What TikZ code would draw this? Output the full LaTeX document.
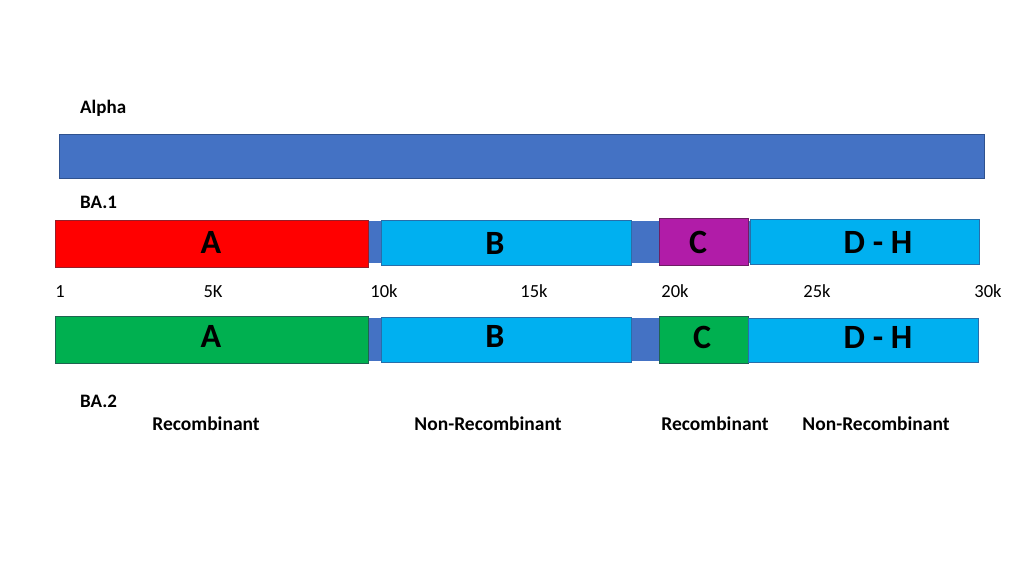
\documentclass[tikz,border=0pt]{standalone}
\usepackage{fontspec}
\setmainfont{Carlito}
\definecolor{alphablue}{RGB}{68,114,196}
\definecolor{alphaedge}{RGB}{47,82,143}
\definecolor{cyanseg}{RGB}{0,176,240}
\definecolor{cyanedge}{RGB}{40,110,170}
\definecolor{redseg}{RGB}{255,0,0}
\definecolor{rededge}{RGB}{150,30,40}
\definecolor{purpleseg}{RGB}{177,28,168}
\definecolor{purpleedge}{RGB}{110,30,100}
\definecolor{greenseg}{RGB}{0,176,80}
\definecolor{greenedge}{RGB}{30,100,80}
\tikzset{
  seg/.style={draw, line width=0.8pt, anchor=north west, inner sep=0pt, outer sep=0pt},
  seglbl/.style={anchor=base, inner sep=0pt, font=\fontsize{34}{36}\selectfont\bfseries},
  stripfill/.style={fill=alphablue, draw=none},
  rowlbl/.style={anchor=base west, inner sep=0pt, font=\fontsize{19}{21}\selectfont\bfseries},
  regionlbl/.style={anchor=base, inner sep=0pt, font=\fontsize{19.5}{21}\selectfont\bfseries},
  ticklbl/.style={anchor=base, inner sep=0pt, font=\fontsize{18.5}{20}\selectfont},
}
\begin{document}
\begin{tikzpicture}[x=1pt,y=-1pt]
\useasboundingbox (0,0) rectangle (1035,582);
% Alpha
\node[rowlbl] (alphalbl) at (80,113) {Alpha};
\node[draw=alphaedge, fill=alphablue, line width=0.8pt, inner sep=0pt, minimum width=925pt, minimum height=44pt, anchor=north west] (alphabar) at (59,134) {};
% BA.1
\node[rowlbl] (ba1) at (80,208) {BA.1};
\fill[stripfill] (366,221) rectangle (752,263);
\node[seg, fill=redseg, draw=rededge, minimum width=313pt, minimum height=47pt] (a1) at (55,220) {};
\node[seg, fill=cyanseg, draw=cyanedge, minimum width=250pt, minimum height=45pt] (b1) at (381,220) {};
\node[seg, fill=purpleseg, draw=purpleedge, minimum width=89pt, minimum height=47pt] (c1) at (659,218) {};
\node[seg, fill=cyanseg, draw=cyanedge, minimum width=229pt, minimum height=45pt] (dh1) at (750,219) {};
\node[seglbl] (a1t) at (211,253) {A};
\node[seglbl] (b1t) at (495,254) {B};
\node[seglbl] (c1t) at (698,253) {C};
\node[seglbl] (dh1t) at (878,253) {D - H};
% ticks
\node[ticklbl] (t1) at (60,297) {1};
\node[ticklbl] (t5) at (213,297) {5K};
\node[ticklbl] (t10) at (384,297) {10k};
\node[ticklbl] (t15) at (534,297) {15k};
\node[ticklbl] (t20) at (675,297) {20k};
\node[ticklbl] (t25) at (817,297) {25k};
\node[ticklbl] (t30) at (988,297) {30k};
% BA.2
\fill[stripfill] (366,318) rectangle (750,361);
\node[seg, fill=greenseg, draw=greenedge, minimum width=313pt, minimum height=47pt] (a2) at (55,316) {};
\node[seg, fill=cyanseg, draw=cyanedge, minimum width=250pt, minimum height=45pt] (b2) at (381,317) {};
\node[seg, fill=greenseg, draw=greenedge, minimum width=89pt, minimum height=47pt] (c2) at (659,316) {};
\node[seg, fill=cyanseg, draw=cyanedge, minimum width=230pt, minimum height=44pt] (dh2) at (748,318) {};
\node[seglbl] (a2t) at (211,347) {A};
\node[seglbl] (b2t) at (495,347) {B};
\node[seglbl] (c2t) at (702,348) {C};
\node[seglbl] (dh2t) at (878,348) {D - H};
\node[rowlbl] (ba2) at (80,407) {BA.2};
\node[regionlbl] (r1) at (206,430) {Recombinant};
\node[regionlbl] (n1) at (488,430) {Non-Recombinant};
\node[regionlbl] (r2) at (715,430) {Recombinant};
\node[regionlbl] (n2) at (876,430) {Non-Recombinant};
\end{tikzpicture}
\end{document}
